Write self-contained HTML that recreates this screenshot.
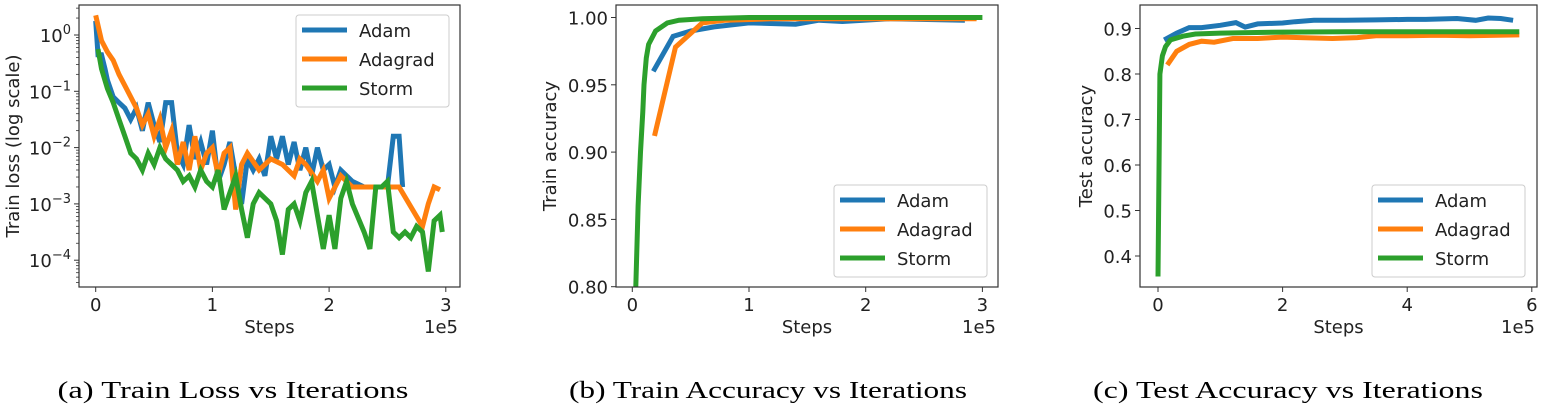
<!DOCTYPE html>
<html><head><meta charset="utf-8"><style>
body{margin:0;background:#fff;width:1542px;height:406px;overflow:hidden}
svg{display:block}
text{font-family:"DejaVu Sans","Liberation Sans",sans-serif;fill:#222}
.cap{font-family:"Liberation Serif",serif;fill:#000}
</style></head><body>
<svg id="c" width="1542" height="406"></svg>
<script>
// Panel A: train loss (log10 values), x in 1e5 steps
const lossAdamX=[0,0.02,0.05,0.08,0.1,0.15,0.2,0.25,0.3,0.35,0.4,0.45,0.5,0.55,0.6,0.65,0.7,0.75,0.8,0.85,0.9,0.95,1.0,1.05,1.1,1.15,1.2,1.25,1.3,1.35,1.4,1.45,1.5,1.55,1.6,1.65,1.7,1.75,1.8,1.85,1.9,1.95,2.0,2.05,2.1,2.2,2.3,2.5,2.55,2.6,2.63];
const lossAdamY=[0.25,-0.35,-0.35,-0.6,-0.8,-1.1,-1.2,-1.3,-1.5,-1.3,-1.7,-1.2,-1.6,-1.9,-1.2,-1.2,-2.1,-2.3,-1.6,-2.2,-1.9,-2.3,-1.7,-2.6,-2.3,-1.9,-2.5,-3.0,-2.2,-2.4,-2.2,-2.5,-1.8,-2.2,-1.8,-2.3,-1.9,-2.4,-2.0,-2.5,-2.0,-2.4,-2.3,-2.7,-2.4,-2.6,-2.7,-2.7,-1.8,-1.8,-2.7];
const lossAdagradX=[0,0.05,0.1,0.15,0.2,0.25,0.3,0.35,0.4,0.45,0.5,0.55,0.6,0.65,0.7,0.75,0.8,0.85,0.9,0.95,1.0,1.05,1.1,1.15,1.2,1.25,1.3,1.4,1.5,1.6,1.7,1.75,1.8,1.9,1.95,2.0,2.1,2.2,2.3,2.5,2.6,2.8,2.85,2.9,2.95];
const lossAdagradY=[0.35,-0.1,-0.3,-0.45,-0.7,-0.9,-1.1,-1.3,-1.6,-1.4,-1.8,-1.5,-2.0,-1.7,-2.3,-1.9,-2.4,-1.8,-2.4,-2.1,-2.0,-2.5,-2.1,-2.0,-3.1,-2.3,-2.1,-2.4,-2.2,-2.3,-2.5,-2.2,-2.3,-2.6,-2.4,-2.9,-2.5,-2.7,-2.7,-2.7,-2.7,-3.4,-3.0,-2.7,-2.75];
const lossStormX=[0.02,0.05,0.1,0.15,0.2,0.25,0.3,0.35,0.4,0.45,0.5,0.55,0.6,0.65,0.7,0.75,0.8,0.85,0.9,0.95,1.0,1.05,1.1,1.15,1.2,1.25,1.3,1.35,1.4,1.5,1.55,1.6,1.65,1.7,1.75,1.8,1.85,1.9,1.95,2.0,2.05,2.1,2.15,2.2,2.3,2.35,2.4,2.45,2.5,2.55,2.6,2.65,2.7,2.75,2.8,2.85,2.9,2.95,2.97];
const lossStormY=[-0.25,-0.6,-0.95,-1.2,-1.5,-1.8,-2.1,-2.2,-2.4,-2.1,-2.3,-2.0,-2.2,-2.3,-2.4,-2.6,-2.5,-2.7,-2.4,-2.6,-2.7,-2.4,-3.1,-2.8,-2.5,-3.1,-3.6,-3.0,-2.8,-3.0,-3.3,-3.9,-3.1,-3.0,-3.3,-2.8,-2.6,-3.2,-3.8,-3.2,-3.8,-2.9,-2.6,-3.0,-3.5,-3.8,-2.7,-2.7,-2.6,-3.5,-3.6,-3.5,-3.6,-3.4,-3.5,-4.2,-3.3,-3.2,-3.5];
// Panel B: train accuracy
const trAdamX=[0.18,0.35,0.5,0.7,1.0,1.4,1.6,1.8,2.2,2.85];
const trAdamY=[0.96,0.986,0.99,0.993,0.996,0.995,0.998,0.997,0.999,0.998];
const trAdagradX=[0.19,0.37,0.6,0.8,1.2,2.95];
const trAdagradY=[0.912,0.978,0.996,0.998,0.999,0.999];
const trStormX=[0.03,0.05,0.07,0.09,0.1,0.12,0.14,0.2,0.3,0.4,0.6,1.0,3.0];
const trStormY=[0.80,0.86,0.90,0.93,0.95,0.97,0.98,0.99,0.996,0.998,0.999,1.0,1.0];
// Panel C: test accuracy
const teAdamX=[0.1,0.3,0.5,0.7,1.0,1.25,1.4,1.6,2.0,2.2,2.5,3.0,3.5,4.0,4.3,4.8,5.1,5.3,5.5,5.7];
const teAdamY=[0.875,0.89,0.902,0.902,0.907,0.913,0.903,0.91,0.912,0.915,0.918,0.918,0.919,0.92,0.92,0.922,0.918,0.923,0.922,0.918];
const teAdagradX=[0.15,0.3,0.5,0.7,0.9,1.2,1.6,2.0,2.8,3.2,3.5,4.0,4.5,5.0,5.8];
const teAdagradY=[0.82,0.85,0.865,0.872,0.87,0.878,0.878,0.881,0.878,0.88,0.884,0.884,0.885,0.884,0.886];
const teStormX=[0.0,0.03,0.07,0.12,0.2,0.4,0.6,1.0,2.0,3.0,4.0,5.0,5.8];
const teStormY=[0.355,0.8,0.84,0.86,0.875,0.883,0.888,0.89,0.892,0.893,0.893,0.893,0.893];
const seriesNames=["Adam","Adagrad","Storm"];
const colors=["#1f77b4","#ff7f0e","#2ca02c"];
const ticksA=[-4,-3,-2,-1,0];
const ticksB=[0.80,0.85,0.90,0.95,1.00];
const ticksC=[0.4,0.5,0.6,0.7,0.8,0.9];
const xticksAB=[0,1,2,3];
const xticksC=[0,2,4,6];

const svg=document.getElementById('c');
const NS='http://www.w3.org/2000/svg';
function el(tag,attrs,parent){const e=document.createElementNS(NS,tag);for(const k in attrs)e.setAttribute(k,attrs[k]);(parent||svg).appendChild(e);return e;}
function txt(s,attrs,parent){const e=el('text',attrs,parent);e.textContent=s;return e;}

function panel(p){
  const g=el('g',{});
  
  
  const X=v=>p.x0+(v-p.xmin)*p.xs;
  const Y=v=>p.y0-(v-p.ymin)*p.ys;
  const cp=el('clipPath',{id:'clip'+p.id},g);
  el('rect',{x:p.L,y:p.T,width:p.R-p.L,height:p.B-p.T},cp);
  p.series.forEach((s,i)=>{
    const pts=s[0].map((x,j)=>X(x).toFixed(1)+','+Y(s[1][j]).toFixed(1)).join(' ');
    const pl=el('polyline',{points:pts,fill:'none',stroke:colors[i],'stroke-width':5,'stroke-linejoin':'miter','clip-path':'url(#clip'+p.id+')'},g);
    
    
  });
  const fr=el('rect',{x:p.L,y:p.T,width:p.R-p.L,height:p.B-p.T,fill:'none',stroke:'#333','stroke-width':1.2},g);
  
  
  p.xticks.forEach(t=>{
    const x=X(t);
    el('line',{x1:x,x2:x,y1:p.B,y2:p.B+5,stroke:'#333','stroke-width':1},g);
    const tl=txt(String(t),{x:x,y:p.B+24,'font-size':18,'text-anchor':'middle'},g);
    
    
  });
  p.yticks.forEach(t=>{
    const y=Y(t);
    el('line',{x1:p.L-5,x2:p.L,y1:y,y2:y,stroke:'#333','stroke-width':1},g);
    let tl;
    if(p.log){
      tl=el('text',{x:p.L-8,y:y+7,'font-size':18,'text-anchor':'end'},g);
      const a=document.createElementNS(NS,'tspan');a.textContent='10';tl.appendChild(a);
      const b=document.createElementNS(NS,'tspan');b.setAttribute('dy','-8');b.setAttribute('font-size','13');b.textContent=t===0?'0':'\u2212'+(-t);tl.appendChild(b);
    } else {
      tl=txt(t.toFixed(p.dec),{x:p.L-8,y:y+7,'font-size':18,'text-anchor':'end'},g);
    }
    
    
  });
  if(p.log){
    for(let d=-5;d<=0;d++)for(let m=2;m<10;m++){
      const v=d+Math.log10(m);const y=Y(v);
      if(y>p.T&&y<p.B) el('line',{x1:p.L-3,x2:p.L,y1:y,y2:y,stroke:'#333','stroke-width':0.8},g);
    }
  }
  const xl=txt('Steps',{x:(p.L+p.R)/2,y:p.B+46,'font-size':18,'text-anchor':'middle'},g);
  
  
  const ex=txt('1e5',{x:p.R-2,y:p.B+46,'font-size':18,'text-anchor':'end'},g);
  
  
  const yl=txt(p.ylabel,{x:0,y:0,'font-size':18,'text-anchor':'middle',transform:'translate('+p.ylx+','+((p.T+p.B)/2)+') rotate(-90)'},g);
  
  
  const lg=el('g',{},g);
  
  
  el('rect',{x:p.lx,y:p.ly,width:153,height:92,rx:3,fill:'#fff','fill-opacity':0.85,stroke:'#ccc','stroke-width':1},lg);
  seriesNames.forEach((n,i)=>{
    const yy=p.ly+15+i*29;
    el('line',{x1:p.lx+6,x2:p.lx+51,y1:yy,y2:yy,stroke:colors[i],'stroke-width':5},lg);
    const t=txt(n,{x:p.lx+63,y:yy+7,'font-size':18},lg);
    
    
  });
  const c=txt(p.caption,{x:p.capx,y:398,'font-size':24,'text-anchor':'middle',textLength:p.capw,lengthAdjust:'spacingAndGlyphs'},g);
  c.setAttribute('class','cap');
  
  
}

panel({id:'a',name:'train-loss-chart',L:79,R:460,T:5,B:287,x0:95.7,xmin:0,xs:116.7,y0:35,ymin:0,ys:56.3,log:true,
  yticks:ticksA,xticks:xticksAB,ylabel:'Train loss (log scale)',ylx:19,lx:296,ly:15,
  series:[[lossAdamX,lossAdamY],[lossAdagradX,lossAdagradY],[lossStormX,lossStormY]],
  caption:'(a) Train Loss vs Iterations',capx:233,capw:351});
panel({id:'b',name:'train-accuracy-chart',L:616,R:998,T:5,B:287,x0:632.3,xmin:0,xs:116.7,y0:286.7,ymin:0.80,ys:1346,dec:2,
  yticks:ticksB,xticks:xticksAB,ylabel:'Train accuracy',ylx:556,lx:834,ly:185,
  series:[[trAdamX,trAdamY],[trAdagradX,trAdagradY],[trStormX,trStormY]],
  caption:'(b) Train Accuracy vs Iterations',capx:768,capw:398});
panel({id:'c',name:'test-accuracy-chart',L:1140,R:1537,T:5,B:287,x0:1158,xmin:0,xs:62.3,y0:256,ymin:0.4,ys:455,dec:1,
  yticks:ticksC,xticks:xticksC,ylabel:'Test accuracy',ylx:1092,lx:1372,ly:185,
  series:[[teAdamX,teAdamY],[teAdagradX,teAdagradY],[teStormX,teStormY]],
  caption:'(c) Test Accuracy vs Iterations',capx:1288,capw:390});
</script>
</body></html>
